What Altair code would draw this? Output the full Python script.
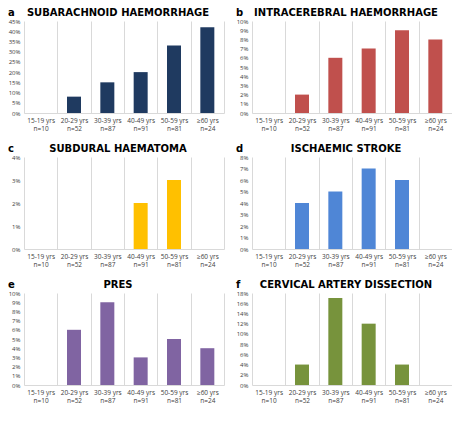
import altair as alt
import pandas as pd

ages = ["15-19 yrs", "20-29 yrs", "30-39 yrs", "40-49 yrs", "50-59 yrs", "≥60 yrs"]
counts = ["n=10", "n=52", "n=87", "n=91", "n=81", "n=24"]

sah = [0, 8, 15, 20, 33, 42]
ich = [0, 2, 6, 7, 9, 8]
sdh = [0, 0, 0, 2, 3, 0]
ischaemic = [0, 4, 5, 7, 6, 0]
pres = [0, 6, 9, 3, 5, 4]
cad = [0, 4, 17, 12, 4, 0]

W = 200
H = 92


def panel(letter, title, values, color, ymax, step):
    data = pd.DataFrame({
        "group": [f"{a}|{n}" for a, n in zip(ages, counts)],
        "pct": values,
    })
    bars = alt.Chart(data).mark_bar(
        color=color,
        width=alt.RelativeBandSize(0.42)
    ).encode(
        x=alt.X(
            "group:N",
            sort=None,
            title=None,
            scale=alt.Scale(paddingInner=0, paddingOuter=0),
            axis=alt.Axis(
                labelExpr="split(datum.label, '|')",
                labelAngle=0,
                labelFontSize=6.5,
                labelFont="Open Sans",
                labelColor="#404040",
                labelPadding=4,
                grid=True,
                gridColor="#d9d9d9",
                tickBand="extent",
                ticks=False,
                domainColor="#d9d9d9",
            ),
        ),
        y=alt.Y(
            "pct:Q",
            title=None,
            scale=alt.Scale(domain=[0, ymax]),
            axis=alt.Axis(
                values=list(range(0, ymax + 1, step)),
                labelExpr="datum.value + '%'",
                labelFontSize=6,
                labelFont="Open Sans",
                labelColor="#404040",
                grid=False,
                domain=False,
                ticks=False,
                labelPadding=4,
            ),
        ),
    )
    heads = pd.DataFrame({"t": [letter, title], "kind": ["tag", "title"]})
    tag = alt.Chart(heads).transform_filter(
        alt.datum.kind == "tag"
    ).mark_text(
        font="DejaVu Sans",
        fontSize=10,
        fontWeight="bold",
        align="left",
        baseline="middle",
        color="black",
    ).encode(
        text="t:N",
        x=alt.value(-16),
        y=alt.value(-8),
    )
    head = alt.Chart(heads).transform_filter(
        alt.datum.kind == "title"
    ).mark_text(
        font="DejaVu Sans",
        fontSize=10,
        fontWeight="bold",
        align="center",
        baseline="middle",
        color="black",
    ).encode(
        text="t:N",
        x=alt.value(W / 2 - 6),
        y=alt.value(-8),
    )
    return (bars + tag + head).properties(width=W, height=H)


a = panel("a", "SUBARACHNOID HAEMORRHAGE", sah, "#1f3a60", 45, 5)
b = panel("b", "INTRACEREBRAL HAEMORRHAGE", ich, "#c0504d", 10, 1)
c = panel("c", "SUBDURAL HAEMATOMA", sdh, "#ffc000", 4, 1)
d = panel("d", "ISCHAEMIC STROKE", ischaemic, "#4f86d6", 8, 1)
e = panel("e", "PRES", pres, "#8064a2", 10, 1)
f = panel("f", "CERVICAL ARTERY DISSECTION", cad, "#77933c", 18, 2)

chart = alt.vconcat(
    alt.hconcat(a, b, spacing=12),
    alt.hconcat(c, d, spacing=12),
    alt.hconcat(e, f, spacing=12),
    spacing=12,
).properties(
    padding=0
).configure_view(
    strokeOpacity=0
)

chart.save("out.html", embed_options={"renderer": "svg", "actions": False})
